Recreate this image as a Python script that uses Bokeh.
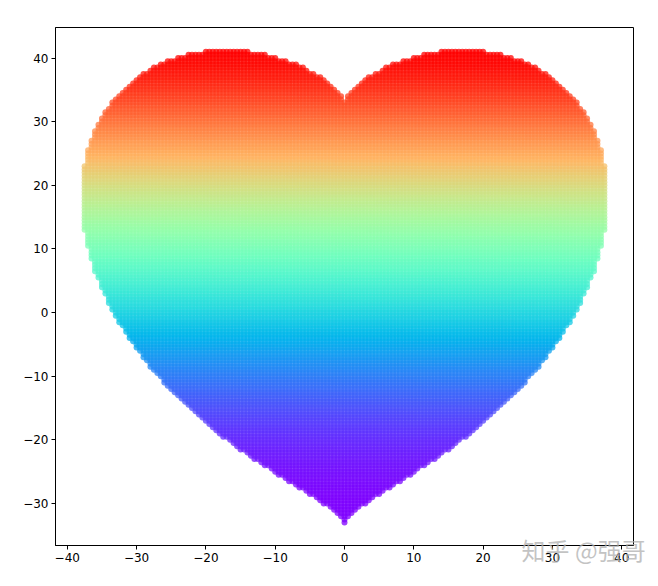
import numpy as np
from bokeh.plotting import figure
from bokeh.models import Range1d, FixedTicker, LinearAxis
from bokeh.embed import file_html
from bokeh.resources import INLINE

# --- data definition (heart: ((a x)^2 + (a y)^2 - 1)^3 - (a x)^2 (a y)^3 <= 0) ---
heart_scale = 0.03
grid_step = 0.5
grid_min = -40.0
grid_max = 42.0
x_ticks = [-40, -30, -20, -10, 0, 10, 20, 30, 40]
y_ticks = [-30, -20, -10, 0, 10, 20, 30, 40]
watermark = "知乎 @强哥"
watermark_x = 35.9

g = np.arange(grid_min, grid_max + grid_step, grid_step)
gx, gy = np.meshgrid(g, g)
ax = gx * heart_scale
ay = gy * heart_scale
inside = (ax**2 + ay**2 - 1) ** 3 - ax**2 * ay**3 <= 0
xs = gx[inside]
ys = gy[inside]
order = np.lexsort((xs, ys))  # points ordered bottom row first, left to right
xs = xs[order]
ys = ys[order]

# matplotlib "rainbow" colour map (style), coloured by point order
def rainbow(t):
    r = np.clip(np.abs(2 * t - 0.5), 0, 1)
    gg = np.clip(np.sin(np.pi * t), 0, 1)
    b = np.clip(np.cos(np.pi * t / 2), 0, 1)
    return ["#%02x%02x%02x" % (int(rr * 255), int(g2 * 255), int(bb * 255)) for rr, g2, bb in zip(r, gg, b)]

t = np.arange(len(xs)) / (len(xs) - 1)
colors = rainbow(t)

p = figure(width=650, height=578, output_backend="svg", toolbar_location=None,
           x_range=Range1d(-41.7, 41.7), y_range=Range1d(-36.6, 44.8),
           min_border_left=55, min_border_right=17, min_border_top=27, min_border_bottom=33)

p.scatter(xs, ys, size=6, marker="circle", fill_color=colors, line_color=None, fill_alpha=0.75)

p.xgrid.visible = False
p.ygrid.visible = False
p.outline_line_color = "black"
p.outline_line_width = 1
p.background_fill_color = "white"
p.border_fill_color = "white"

for axis, ticks in ((p.xaxis[0], x_ticks), (p.yaxis[0], y_ticks)):
    axis.ticker = FixedTicker(ticks=ticks)
    axis.major_label_overrides = {tk: (str(tk).replace("-", "\u2212")) for tk in ticks}
    axis.minor_tick_line_color = None
    axis.major_tick_in = 0
    axis.major_tick_out = 4
    axis.axis_line_color = "black"
    axis.major_tick_line_color = "black"
    axis.major_label_text_font = "DejaVu Sans"
    axis.major_label_text_font_size = "12px"
    axis.major_label_text_color = "black"
    axis.major_label_standoff = 3

# watermark drawn as a tick label of an extra (invisible) axis
wm_axis = LinearAxis(ticker=FixedTicker(ticks=[watermark_x]),
                     major_label_overrides={watermark_x: watermark},
                     axis_line_color=None, major_tick_line_color=None,
                     minor_tick_line_color=None, major_tick_in=0, major_tick_out=0,
                     major_label_standoff=-33,
                     major_label_text_font="Noto Sans CJK SC",
                     major_label_text_font_size="24px",
                     major_label_text_color="#b0b0b0", major_label_text_alpha=0.75)
p.add_layout(wm_axis, "below")

open("out.html", "w").write(file_html(p, INLINE))
